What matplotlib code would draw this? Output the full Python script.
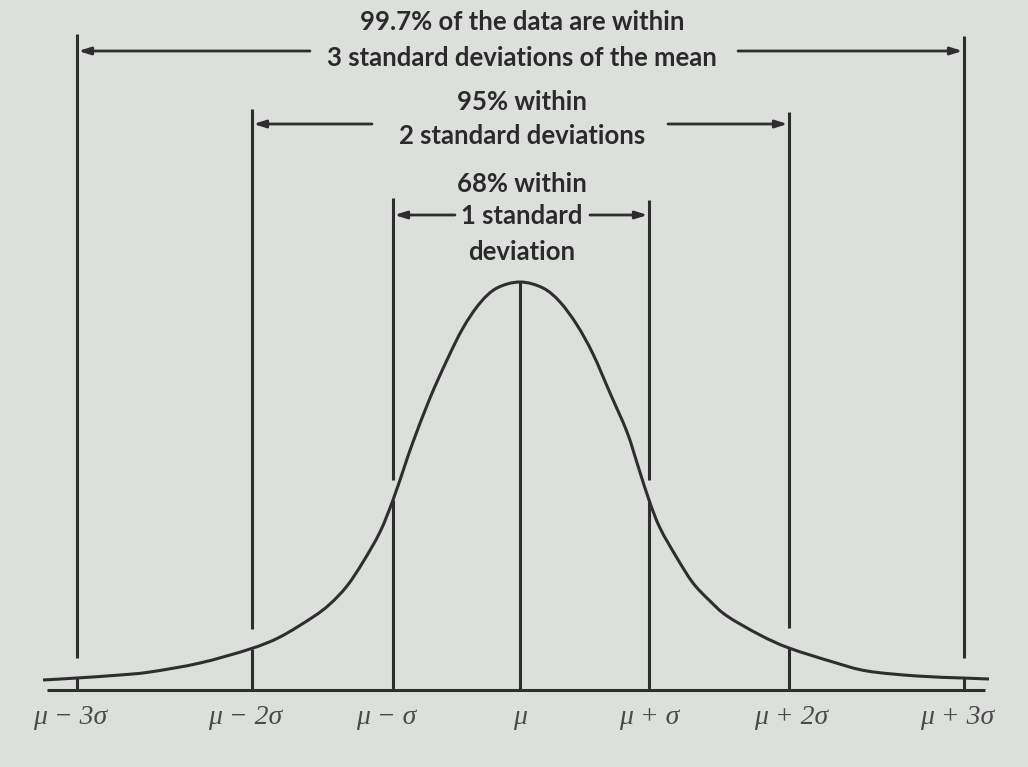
import matplotlib.pyplot as plt
from matplotlib.path import Path
from matplotlib.patches import PathPatch

# horizontal units: pixels from the mean; vertical: height above the base line
curve_x = [-477, -443, -400, -370, -320, -270, -240, -207, -190, -173, -157, -140,
           -127, -115, -107, -90, -73, -57, -40, -23, 0,
           23, 40, 57, 73, 90, 107, 118, 129, 140, 157, 173, 190, 207, 240,
           269, 313, 347, 397, 443, 469]
curve_y = [10, 12, 15, 18, 27, 41, 53, 73, 86, 104, 128, 158,
           190, 225, 248, 292, 330, 362, 387, 402, 408,
           402, 388, 365, 336, 297, 258, 224, 190, 162, 132, 107, 89, 74, 55,
           42, 28, 19, 14, 12, 11]

sigma_labels = ['μ − 3σ', 'μ − 2σ', 'μ − σ', 'μ', 'μ + σ', 'μ + 2σ', 'μ + 3σ']
sigma_x = [-443, -268, -127, 0, 129, 269, 444]
label_x = [-450, -275, -134, 0, 129, 271, 437]
sigma_curve = [12, 41, 190, 408, 190, 42, 12]     # curve height at each line
line_top = [656, 581, 492, 408, 490, 578, 654]     # top of each vertical line

# (level, arrow height, left tail, right tail, texts)
bands = [
    ('3', 639, -210, 218, ['99.7% of the data are within', '3 standard deviations of the mean']),
    ('2', 566, -148, 148, ['95% within', '2 standard deviations']),
    ('1', 475, -65, 70, ['68% within', '1 standard', 'deviation']),
]
text_y = {'3': [668, 632], '2': [588, 554], '1': [506, 474, 438]}

ink = '#2e2e2e'
bg = '#dddfdd'

fig = plt.figure(figsize=(10.28, 7.67), dpi=100)
fig.patch.set_facecolor(bg)
ax = fig.add_axes([0, 0, 1, 1])
ax.set_facecolor(bg)
ax.set_xlim(-520, 508)
ax.set_ylim(-77, 690)
ax.axis('off')

# base line
ax.plot([-473, 465], [0, 0], color=ink, lw=2.2, solid_capstyle='butt')

# bell curve drawn as a smooth path through the read points (Catmull-Rom -> Bezier)
pts = list(zip(curve_x, curve_y))
verts = [pts[0]]
codes = [Path.MOVETO]
for i in range(len(pts) - 1):
    p0 = pts[i - 1] if i > 0 else pts[i]
    p1 = pts[i]
    p2 = pts[i + 1]
    p3 = pts[i + 2] if i + 2 < len(pts) else pts[i + 1]
    c1 = (p1[0] + (p2[0] - p0[0]) / 6, p1[1] + (p2[1] - p0[1]) / 6)
    c2 = (p2[0] - (p3[0] - p1[0]) / 6, p2[1] - (p3[1] - p1[1]) / 6)
    verts += [c1, c2, p2]
    codes += [Path.CURVE4] * 3
ax.add_patch(PathPatch(Path(verts, codes), facecolor='none', edgecolor=ink, lw=2.2))

gap = 20
for i, x in enumerate(sigma_x):
    ax.plot([x, x], [0, sigma_curve[i]], color=ink, lw=2.2, solid_capstyle='butt')
    if i != 3:
        ax.plot([x, x], [sigma_curve[i] + gap, line_top[i]], color=ink, lw=2.2,
                solid_capstyle='butt')
    ax.text(label_x[i], -28, sigma_labels[i], ha='center', va='center', fontsize=20,
            family='Liberation Serif', style='italic', color='#4a4a4a')

lx = {'3': (sigma_x[0], sigma_x[6]), '2': (sigma_x[1], sigma_x[5]), '1': (sigma_x[2], sigma_x[4])}
for key, yy, left_tail, right_tail, texts in bands:
    xl, xr = lx[key]
    for tail, head in [(left_tail, xl), (right_tail, xr)]:
        ax.annotate('', xy=(head, yy), xytext=(tail, yy),
                    arrowprops=dict(arrowstyle='-|>,head_length=0.7,head_width=0.22',
                                    color=ink, lw=2.0, shrinkA=0, shrinkB=1))
    for t, ty in zip(texts, text_y[key]):
        ax.text(2, ty, t, ha='center', va='center', fontsize=18.5, family='Lato',
                fontweight='bold', color='#2a2a2a')

fig.savefig('out.png', dpi=100, facecolor=bg)
